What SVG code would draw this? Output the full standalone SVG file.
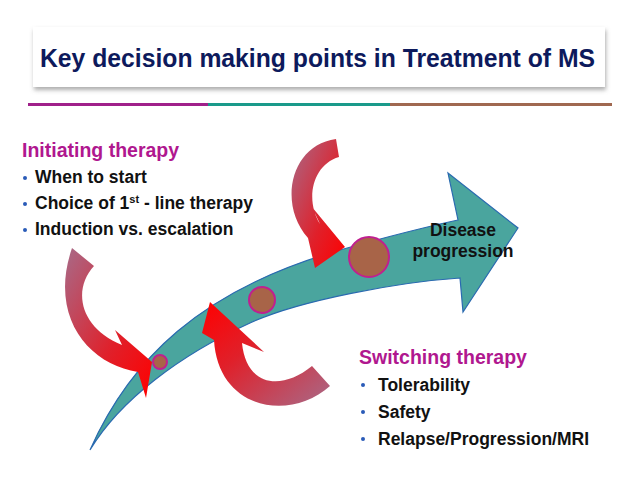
<svg xmlns="http://www.w3.org/2000/svg" width="638" height="478" viewBox="0 0 638 478">
<defs>
<linearGradient id="rg" x1="0" y1="0" x2="1" y2="1"><stop offset="0" stop-color="#a86a88"/><stop offset="0.6" stop-color="#e0202a"/><stop offset="1" stop-color="#ff0000"/></linearGradient>
<linearGradient id="rg2" x1="1" y1="1" x2="0" y2="0"><stop offset="0" stop-color="#a86a88"/><stop offset="0.6" stop-color="#e0202a"/><stop offset="1" stop-color="#ff0000"/></linearGradient>
<filter id="sh" x="-5%" y="-20%" width="110%" height="150%"><feDropShadow dx="1" dy="3" stdDeviation="2" flood-color="#777" flood-opacity="0.6"/></filter>
<style>
.h{font-family:"Liberation Sans",Arial,sans-serif;font-weight:bold;font-size:19.5px;fill:#b0178f}
.t{font-family:"Liberation Sans",Arial,sans-serif;font-weight:bold;font-size:17.5px;fill:#111}
.d{fill:#2a5bb8}
.c{fill:#a86448;stroke:#c0208f;stroke-width:2}
</style>
</defs>
<rect width="638" height="478" fill="#fff"/>
<g id="title"><rect x="33" y="27" width="572" height="60" fill="#fff" filter="url(#sh)"/>
<text x="40" y="67" textLength="555" lengthAdjust="spacingAndGlyphs" font-family="Liberation Sans,Arial,sans-serif" font-weight="bold" font-size="25" fill="#0d1a5c">Key decision making points in Treatment of MS</text></g>
<g id="rule"><rect x="28" y="103" width="180" height="3" fill="#a0208a"/><rect x="208" y="103" width="182" height="3" fill="#1a9a8a"/><rect x="390" y="103" width="222" height="3" fill="#a06850"/></g>
<g id="main-arrow"><path d="M90,450 C130,360 200,290 340,250 C390,236 430,226 458,220 L448,173 L518,228 L463,312 L460,278 C400,282 300,300 250,323 C180,355 120,400 90,450 Z" fill="#4aa59e" stroke="#2a6ab0" stroke-width="1.2"/>
<text class="t" x="463" y="236" text-anchor="middle" font-size="18">Disease</text>
<text class="t" x="463" y="257" text-anchor="middle" font-size="18">progression</text></g>
<g id="points"><circle class="c" cx="160" cy="362" r="7"/><circle class="c" cx="262" cy="300" r="13"/><circle class="c" cx="369" cy="257" r="20"/></g>
<g id="connectors">
<path d="M72,248 L94,266 C72,290 80,328 122,345 L115,330 L152,362 L146,398 L138,372 C90,365 48,318 72,248 Z" fill="url(#rg)"/>
<path d="M312,366 L330,386 C290,422 218,410 214,340 L202,333 L210,302 L264,352 L242,343 C246,385 280,392 312,366 Z" fill="url(#rg2)"/>
<path d="M336,139 L339,157 C312,165 305,200 320,224 L312,207 L345,247 L315,268 L308,238 C278,205 290,145 336,139 Z" fill="url(#rg)"/>
</g>
<g id="initiating"><text class="h" x="22" y="157">Initiating therapy</text>
<circle class="d" cx="25" cy="178" r="2"/><text class="t" x="35" y="183">When to start</text>
<circle class="d" cx="25" cy="204" r="2"/><text class="t" x="35" y="209">Choice of 1<tspan font-size="11" dy="-6">st</tspan><tspan dy="6"> - line therapy</tspan></text>
<circle class="d" cx="25" cy="230" r="2"/><text class="t" x="35" y="235">Induction vs. escalation</text></g>
<g id="switching"><text class="h" x="359" y="364">Switching therapy</text>
<circle class="d" cx="363" cy="385" r="2"/><text class="t" x="378" y="391">Tolerability</text>
<circle class="d" cx="363" cy="412" r="2"/><text class="t" x="378" y="418">Safety</text>
<circle class="d" cx="363" cy="439" r="2"/><text class="t" x="378" y="445">Relapse/Progression/MRI</text></g>
</svg>
